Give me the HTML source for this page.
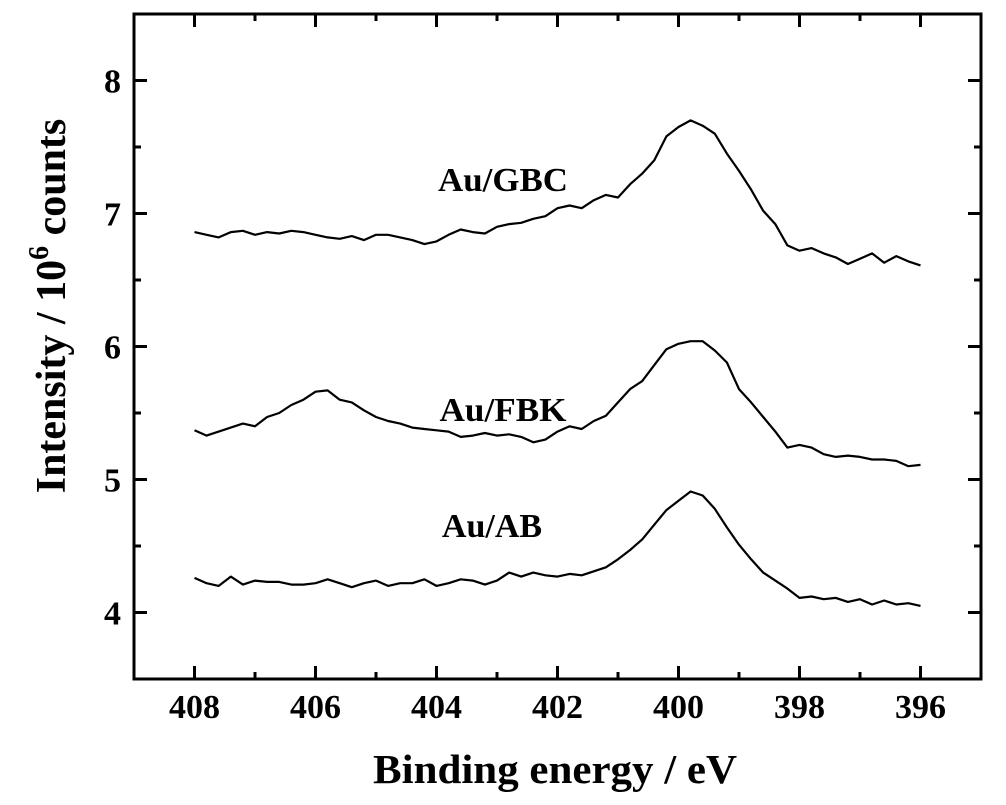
<!DOCTYPE html>
<html><head><meta charset="utf-8"><style>
html,body{margin:0;padding:0;background:#fff;}
svg{display:block;}
text{font-family:"Liberation Serif",serif;font-weight:bold;fill:#000;}
</style></head><body>
<svg id="chart" width="1006" height="805" viewBox="0 0 1006 805" xmlns="http://www.w3.org/2000/svg">
<g id="ticks"></g>
<g id="series"></g>
<rect x="134" y="14" width="847" height="665" fill="none" stroke="#000" stroke-width="3"/>
<text x="503" y="191" font-size="34" text-anchor="middle" textLength="130" lengthAdjust="spacingAndGlyphs">Au/GBC</text>
<text x="503" y="421" font-size="34" text-anchor="middle" textLength="127" lengthAdjust="spacingAndGlyphs">Au/FBK</text>
<text x="492" y="537" font-size="34" text-anchor="middle">Au/AB</text>
<text x="555" y="783" font-size="41" text-anchor="middle" textLength="364" lengthAdjust="spacingAndGlyphs">Binding energy / eV</text>
<text transform="translate(65,306) rotate(-90)" font-size="42" text-anchor="middle">Intensity / 10<tspan dy="-17" font-size="28">6</tspan><tspan dy="17"> counts</tspan></text>
</svg>
<script>
const energies = [];
for (let i = 0; i <= 60; i++) energies.push(408 - i * 0.2);
const gbc = [6.86,6.84,6.82,6.86,6.87,6.84,6.86,6.85,6.87,6.86,6.84,6.82,6.81,6.83,6.80,6.84,6.84,6.82,6.80,6.77,6.79,6.84,6.88,6.86,6.85,6.90,6.92,6.93,6.96,6.98,7.04,7.06,7.04,7.10,7.14,7.12,7.22,7.30,7.40,7.58,7.65,7.70,7.66,7.60,7.45,7.32,7.18,7.02,6.92,6.76,6.72,6.74,6.70,6.67,6.62,6.66,6.70,6.63,6.68,6.64,6.61];
const fbk = [5.37,5.33,5.36,5.39,5.42,5.40,5.47,5.50,5.56,5.60,5.66,5.67,5.60,5.58,5.52,5.47,5.44,5.42,5.39,5.38,5.37,5.36,5.32,5.33,5.35,5.33,5.34,5.32,5.28,5.30,5.36,5.40,5.38,5.44,5.48,5.58,5.68,5.74,5.86,5.98,6.02,6.04,6.04,5.97,5.88,5.68,5.58,5.47,5.36,5.24,5.26,5.24,5.19,5.17,5.18,5.17,5.15,5.15,5.14,5.10,5.11];
const ab = [4.26,4.22,4.20,4.27,4.21,4.24,4.23,4.23,4.21,4.21,4.22,4.25,4.22,4.19,4.22,4.24,4.20,4.22,4.22,4.25,4.20,4.22,4.25,4.24,4.21,4.24,4.30,4.27,4.30,4.28,4.27,4.29,4.28,4.31,4.34,4.40,4.47,4.55,4.66,4.77,4.84,4.91,4.88,4.78,4.64,4.51,4.40,4.30,4.24,4.18,4.11,4.12,4.10,4.11,4.08,4.10,4.06,4.09,4.06,4.07,4.05];
const xTicks = [408,406,404,402,400,398,396];
const xMinor = [407,405,403,401,399,397];
const yTicks = [4,5,6,7,8];
const yMinor = [4.5,5.5,6.5,7.5];

const X0=134,X1=981,Y0=14,Y1=679, XMIN=409, XMAX=395, YMIN=3.5, YMAX=8.5;
function xs(v){return X0+(XMIN-v)/(XMIN-XMAX)*(X1-X0);}
function ys(v){return Y1-(v-YMIN)/(YMAX-YMIN)*(Y1-Y0);}
const NS="http://www.w3.org/2000/svg";
const tg=document.getElementById('ticks'), sg=document.getElementById('series');
function line(x1,y1,x2,y2,name){
  const l=document.createElementNS(NS,'line');
  l.setAttribute('x1',x1);l.setAttribute('y1',y1);l.setAttribute('x2',x2);l.setAttribute('y2',y2);
  l.setAttribute('stroke','#000');l.setAttribute('stroke-width','3');
  
  
  tg.appendChild(l);
}
function label(x,y,t,anchor,name){
  const e=document.createElementNS(NS,'text');
  e.setAttribute('x',x);e.setAttribute('y',y);e.setAttribute('font-size','34');
  e.setAttribute('text-anchor',anchor);e.textContent=t;
  
  
  tg.appendChild(e);
}
xTicks.forEach(v=>{const x=xs(v);line(x,Y1,x,Y1-13,'x-tick');line(x,Y0,x,Y0+13,'x-tick-top');label(x,718,String(v),'middle','x-tick-label');});
xMinor.forEach(v=>{const x=xs(v);line(x,Y1,x,Y1-7,'x-minor-tick');line(x,Y0,x,Y0+7,'x-minor-tick-top');});
yTicks.forEach(v=>{const y=ys(v);line(X0,y,X0+13,y,'y-tick');line(X1,y,X1-13,y,'y-tick-right');label(121,y+12,String(v),'end','y-tick-label');});
yMinor.forEach(v=>{const y=ys(v);line(X0,y,X0+7,y,'y-minor-tick');line(X1,y,X1-7,y,'y-minor-tick-right');});
function series(arr,name){
  const p=document.createElementNS(NS,'polyline');
  p.setAttribute('points',arr.map((v,i)=>xs(energies[i]).toFixed(1)+','+ys(v).toFixed(1)).join(' '));
  p.setAttribute('fill','none');p.setAttribute('stroke','#000');p.setAttribute('stroke-width','2.2');
  p.setAttribute('stroke-linejoin','round');
  
  
  sg.appendChild(p);
}
series(gbc,'series-au-gbc');
series(fbk,'series-au-fbk');
series(ab,'series-au-ab');
</script>
</body></html>
